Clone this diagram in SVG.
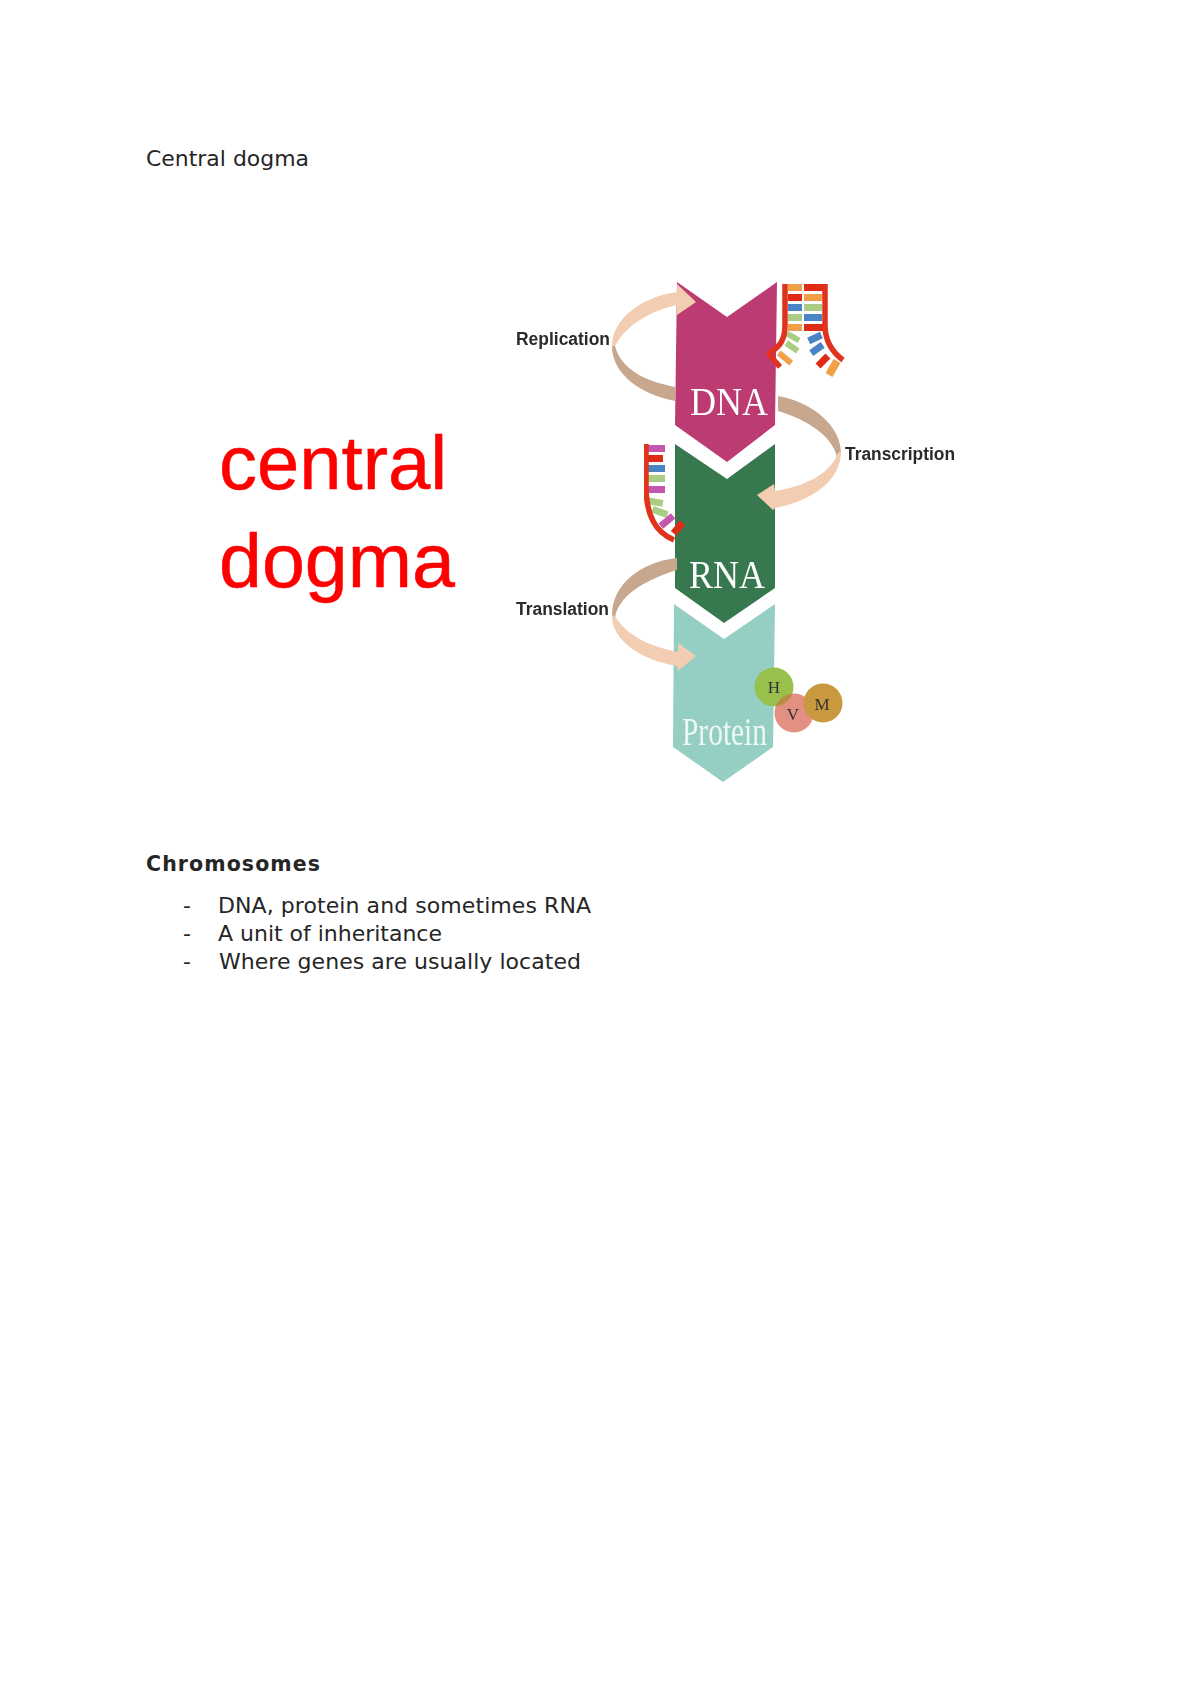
<svg xmlns="http://www.w3.org/2000/svg" width="1200" height="1696" viewBox="0 0 1200 1696">
<style>
.doc{font-family:"DejaVu Sans",Verdana,sans-serif;font-size:22px;fill:#262626}
.lab{font-family:"Liberation Sans",Arial,sans-serif;font-weight:700;font-size:18px;fill:#2b2b2b}
.big{font-family:"Liberation Sans",Arial,sans-serif;font-size:76px;fill:#fe0000;stroke:#fe0000;stroke-width:0.5}
.ser{font-family:"Liberation Serif","Times New Roman",serif;font-size:40px;fill:#fff}
.let{font-family:"Liberation Serif","Times New Roman",serif;font-size:17px;fill:#333;text-anchor:middle}
.peach{fill:#f3cdb2}.tan{fill:#c8a78f}
.strand{fill:none;stroke:#e0301a;stroke-width:5.5}
.o{fill:#f0a04a}.r{fill:#df2c14}.b{fill:#4c84c4}.g{fill:#a9cd84}.m{fill:#c558ae}
</style>
<defs>
<filter id="soft" x="-5%" y="-5%" width="110%" height="110%"><feGaussianBlur stdDeviation="0.5"/></filter>
<clipPath id="hclip"><circle cx="774" cy="687" r="19.5"/></clipPath>
</defs>
<rect width="1200" height="1696" fill="#fff"/>

<g id="title"><text class="doc" x="146" y="166" textLength="163" lengthAdjust="spacingAndGlyphs">Central dogma</text></g>

<g id="central-dogma-label" filter="url(#soft)">
<text class="big" x="219" y="489">central</text>
<text class="big" x="219" y="587" textLength="236" lengthAdjust="spacingAndGlyphs">dogma</text>
</g>

<g id="dna" filter="url(#soft)">
<polygon fill="#bc3a73" points="677,282 727,317 777,282 775,425 727,462 675,425"/>
<text class="ser" x="690" y="415" textLength="78" lengthAdjust="spacingAndGlyphs">DNA</text>
</g>

<g id="rna" filter="url(#soft)">
<polygon fill="#38784f" points="675,444 727,479 775,444 775,588 724,623 675,588"/>
<text class="ser" x="689" y="588" textLength="76" lengthAdjust="spacingAndGlyphs">RNA</text>
</g>

<g id="protein" filter="url(#soft)">
<polygon fill="#95cfc3" points="674,604 724,639 775,604 773,747 723,782 673,747"/>
<text class="ser" x="682" y="745" textLength="85" lengthAdjust="spacingAndGlyphs" style="fill:#eef8f5">Protein</text>
</g>

<g id="connectors" filter="url(#soft)">
<path class="tan" d="M612,346 C612,374 640,394 675,401 L675,387 C650,382 622,372 615,346 Z"/>
<path class="peach" d="M612,346 C612,320 640,297 677,292 L677,284 L696,302 L677,315 L677,305 C650,311 626,325 615,346 Z"/>
<path class="tan" d="M778,396 C812,402 840,425 841,452 L837,457 C832,436 808,420 778,411 Z"/>
<path class="peach" d="M841,450 C842,480 812,501 775,508 L773,510 L757,495 L774,484 L775,491 C803,487 830,474 837,455 Z"/>
<path class="tan" d="M677,558 C640,562 612,585 612,615 L615,618 C618,597 642,581 677,570 Z"/>
<path class="peach" d="M612,616 C612,640 640,660 677,666 L678,671 L696,656 L678,643 L678,652 C652,647 626,636 615,616 Z"/>
</g>

<g id="dna-ladder" filter="url(#soft)">
<rect class="o" x="788" y="284" width="14" height="7"/><rect class="r" x="804" y="284" width="20" height="7"/>
<rect class="r" x="788" y="294" width="14" height="7"/><rect class="o" x="804" y="294" width="18" height="7"/>
<rect class="b" x="788" y="304" width="14" height="7"/><rect class="g" x="804" y="304" width="18" height="7"/>
<rect class="g" x="788" y="314" width="14" height="7"/><rect class="b" x="804" y="314" width="18" height="7"/>
<rect class="o" x="788" y="324" width="14" height="7"/><rect class="r" x="804" y="324" width="20" height="7"/>
<rect class="g" x="-7" y="-3" width="14" height="6" transform="translate(793,337) rotate(30)"/>
<rect class="g" x="-7" y="-3" width="14" height="6" transform="translate(792,347) rotate(35)"/>
<rect class="o" x="-8" y="-3" width="16" height="6" transform="translate(785,358) rotate(40)"/>
<rect class="b" x="-7" y="-3.5" width="14" height="7" transform="translate(815,338) rotate(-25)"/>
<rect class="b" x="-7" y="-3.5" width="14" height="7" transform="translate(817,349) rotate(-35)"/>
<rect class="r" x="-7" y="-3.5" width="14" height="7" transform="translate(823,361) rotate(-45)"/>
<rect class="o" x="-8" y="-4" width="16" height="8" transform="translate(833,368) rotate(-60)"/>
<path class="strand" d="M785,284 V325 C785,340 780,347 768,354 M768,353 L780,367"/>
<path class="strand" d="M825,284 V325 C825,340 832,352 843,360"/>
</g>

<g id="rna-ladder" filter="url(#soft)">
<rect class="m" x="648" y="445" width="17" height="7"/>
<rect class="r" x="648" y="455" width="15" height="7"/>
<rect class="b" x="648" y="465" width="17" height="7"/>
<rect class="g" x="648" y="475" width="17" height="7"/>
<rect class="m" x="648" y="486" width="17" height="7"/>
<rect class="g" x="-8" y="-3.5" width="16" height="7" transform="translate(655,502) rotate(10)"/>
<rect class="g" x="-8" y="-3.5" width="16" height="7" transform="translate(660,512) rotate(20)"/>
<rect class="m" x="-8" y="-3.5" width="16" height="7" transform="translate(667,521) rotate(-40)"/>
<rect class="r" x="-7" y="-3.5" width="14" height="7" transform="translate(678,528) rotate(-50)"/>
<path class="strand" d="M646,444 V485 C646,515 655,532 674,540"/>
</g>

<g id="hvm" filter="url(#soft)">
<circle cx="794" cy="713" r="19.5" fill="#e38f82"/>
<circle cx="774" cy="687" r="19.5" fill="#97c04e"/>
<circle cx="794" cy="713" r="19.5" fill="#ba8c48" clip-path="url(#hclip)"/>
<circle cx="823" cy="703" r="19.5" fill="#c9993f"/>
<text class="let" x="774" y="693">H</text>
<text class="let" x="793" y="720">V</text>
<text class="let" x="822" y="710">M</text>
</g>

<g id="labels" filter="url(#soft)">
<text class="lab" x="516" y="345" textLength="94" lengthAdjust="spacingAndGlyphs">Replication</text>
<text class="lab" x="845" y="460" textLength="110" lengthAdjust="spacingAndGlyphs">Transcription</text>
<text class="lab" x="516" y="615" textLength="93" lengthAdjust="spacingAndGlyphs">Translation</text>
</g>

<g id="chromosomes">
<text class="doc" x="146" y="871" font-weight="700" style="font-size:20.5px" textLength="174">Chromosomes</text>
<text class="doc" x="183" y="913">-</text>
<text class="doc" x="218" y="913" textLength="373">DNA, protein and sometimes RNA</text>
<text class="doc" x="183" y="941">-</text>
<text class="doc" x="218" y="941" textLength="224">A unit of inheritance</text>
<text class="doc" x="183" y="969">-</text>
<text class="doc" x="219" y="969" textLength="362">Where genes are usually located</text>
</g>
</svg>
